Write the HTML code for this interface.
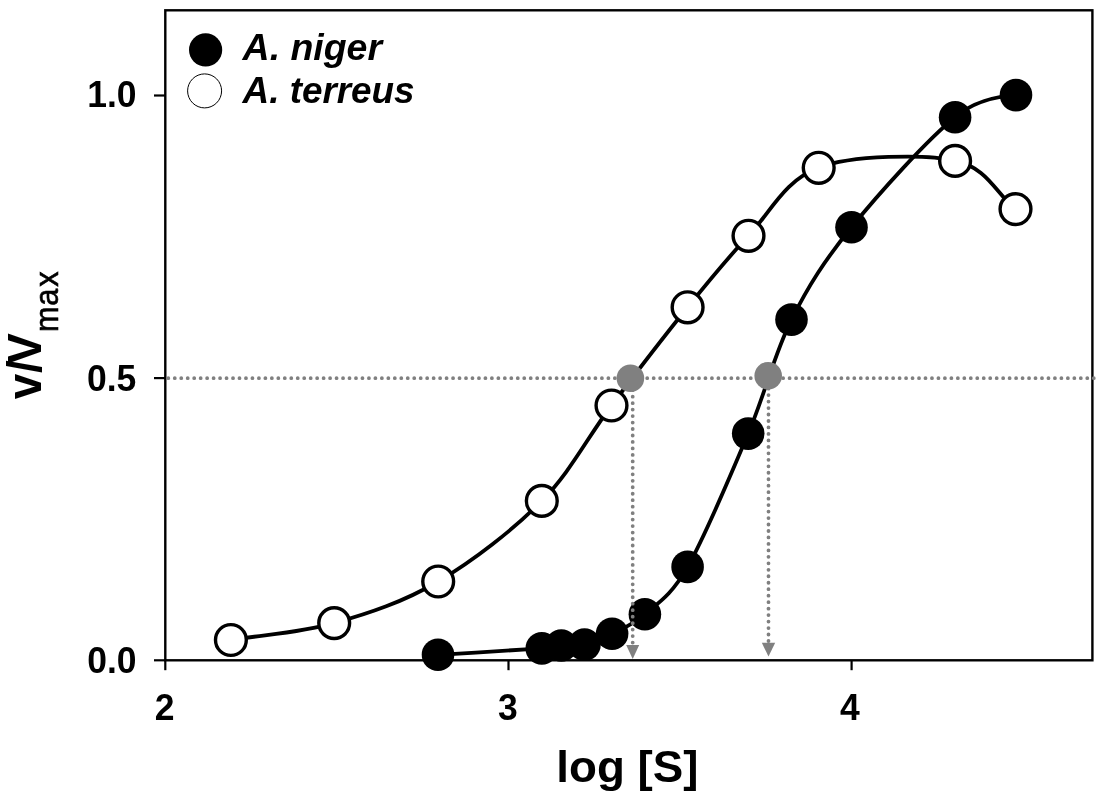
<!DOCTYPE html>
<html><head><meta charset="utf-8"><title>v/Vmax vs log [S]</title>
<style>html,body{margin:0;padding:0;background:#fff}svg{display:block}</style></head>
<body>
<svg width="1100" height="799" viewBox="0 0 1100 799">
<rect width="1100" height="799" fill="#fff"/>
<rect x="165.3" y="10.3" width="927.1" height="650.0" fill="none" stroke="#000" stroke-width="2.4"/>
<line x1="154" y1="95.5" x2="165.3" y2="95.5" stroke="#000" stroke-width="2.2"/>
<line x1="154" y1="378.1" x2="165.3" y2="378.1" stroke="#000" stroke-width="2.2"/>
<line x1="154" y1="660.3" x2="165.3" y2="660.3" stroke="#000" stroke-width="2.2"/>
<line x1="165.3" y1="660.3" x2="165.3" y2="670.2" stroke="#000" stroke-width="2.2"/>
<line x1="508.5" y1="660.3" x2="508.5" y2="670.2" stroke="#000" stroke-width="2.2"/>
<line x1="851.6" y1="660.3" x2="851.6" y2="670.2" stroke="#000" stroke-width="2.2"/>
<path d="M230.9 640.0 C265.3 634.4 299.6 632.9 334.2 623.1 C368.8 613.4 403.6 601.9 438.2 581.5 C472.8 561.1 512.9 530.2 541.8 500.9 C570.7 471.6 587.2 437.8 611.5 405.5 C635.8 373.2 664.8 335.6 687.6 307.3 C710.4 279.0 726.6 259.1 748.5 235.8 C770.4 212.6 784.3 180.3 818.7 167.8 C850.0 155.0 928.0 154.0 955.1 160.9 C987.9 167.8 995.4 193.0 1015.5 209.1" fill="none" stroke="#000" stroke-width="3.8" stroke-linejoin="round"/>
<path d="M438.0 654.8 C472.6 652.7 521.2 649.9 541.8 648.4 C562.3 646.9 554.2 646.1 561.3 645.5 C568.4 644.9 576.0 646.6 584.5 644.6 C593.0 642.6 602.0 638.9 612.1 633.8 C622.2 628.7 632.3 625.4 644.9 614.2 C657.5 603.1 670.4 597.0 687.6 566.9 C704.8 536.8 730.9 474.8 748.2 433.6 C765.5 392.4 774.3 354.0 791.5 319.6 C808.7 285.2 824.2 261.0 851.5 227.3 C878.8 193.6 927.7 139.3 955.1 117.3 C972.0 102.5 996.0 96.3 1016.0 95.1" fill="none" stroke="#000" stroke-width="3.8" stroke-linejoin="round"/>
<circle cx="230.9" cy="640.0" r="15.4" fill="#fff" stroke="#000" stroke-width="3.4"/>
<circle cx="334.2" cy="623.1" r="15.4" fill="#fff" stroke="#000" stroke-width="3.4"/>
<circle cx="438.2" cy="581.5" r="15.4" fill="#fff" stroke="#000" stroke-width="3.4"/>
<circle cx="541.8" cy="500.9" r="15.4" fill="#fff" stroke="#000" stroke-width="3.4"/>
<circle cx="611.5" cy="405.5" r="15.4" fill="#fff" stroke="#000" stroke-width="3.4"/>
<circle cx="687.6" cy="307.3" r="15.4" fill="#fff" stroke="#000" stroke-width="3.4"/>
<circle cx="748.5" cy="235.8" r="15.4" fill="#fff" stroke="#000" stroke-width="3.4"/>
<circle cx="818.7" cy="167.8" r="15.4" fill="#fff" stroke="#000" stroke-width="3.4"/>
<circle cx="955.1" cy="160.9" r="15.4" fill="#fff" stroke="#000" stroke-width="3.4"/>
<circle cx="1015.5" cy="209.1" r="15.4" fill="#fff" stroke="#000" stroke-width="3.4"/>
<circle cx="438.0" cy="654.8" r="16.3" fill="#000"/>
<circle cx="541.8" cy="648.4" r="16.3" fill="#000"/>
<circle cx="561.3" cy="645.5" r="16.3" fill="#000"/>
<circle cx="584.5" cy="644.6" r="16.3" fill="#000"/>
<circle cx="612.1" cy="633.8" r="16.3" fill="#000"/>
<circle cx="644.9" cy="614.2" r="16.3" fill="#000"/>
<circle cx="687.6" cy="566.9" r="16.3" fill="#000"/>
<circle cx="748.2" cy="433.6" r="16.3" fill="#000"/>
<circle cx="791.5" cy="319.6" r="16.3" fill="#000"/>
<circle cx="851.5" cy="227.3" r="16.3" fill="#000"/>
<circle cx="955.1" cy="117.3" r="16.3" fill="#000"/>
<circle cx="1016.0" cy="95.1" r="16.3" fill="#000"/>
<line x1="168.3" y1="378.2" x2="1096" y2="378.2" stroke="#808080" stroke-width="3.8" stroke-linecap="round" stroke-dasharray="0.01 6.4617" fill="none"/>
<line x1="632.7" y1="390.2" x2="632.7" y2="646" stroke="#808080" stroke-width="3.8" stroke-linecap="round" stroke-dasharray="0.01 6.46" fill="none"/>
<line x1="768.5" y1="388.64" x2="768.5" y2="642" stroke="#808080" stroke-width="3.8" stroke-linecap="round" stroke-dasharray="0.01 6.46" fill="none"/>
<path d="M626.2 645 L639.2 645 L632.7 659 Z" fill="#808080"/>
<path d="M761.8 642.8 L775.2 642.8 L768.5 656.5 Z" fill="#808080"/>
<circle cx="630.4" cy="378.2" r="13.8" fill="#808080"/>
<circle cx="768.2" cy="375.8" r="13.8" fill="#808080"/>
<circle cx="205.6" cy="49.9" r="16.6" fill="#000"/>
<circle cx="204.6" cy="90.9" r="17" fill="#fff" stroke="#000" stroke-width="1"/>
<text transform="translate(242.60,60.40) scale(1.0700,1.0600)" font-family="'Liberation Sans', Arial, sans-serif" font-size="35" font-weight="bold" font-style="italic" >A. niger</text>
<text transform="translate(242.60,102.80) scale(1.0530,1.0600)" font-family="'Liberation Sans', Arial, sans-serif" font-size="35" font-weight="bold" font-style="italic" >A. terreus</text>
<text transform="translate(87.20,106.90) scale(1.0000,1.0450)" font-family="'Liberation Sans', Arial, sans-serif" font-size="35.5" font-weight="bold" >1.0</text>
<text transform="translate(86.95,390.60) scale(1.0000,1.0450)" font-family="'Liberation Sans', Arial, sans-serif" font-size="35.5" font-weight="bold" >0.5</text>
<text transform="translate(87.20,672.50) scale(1.0000,1.0450)" font-family="'Liberation Sans', Arial, sans-serif" font-size="35.5" font-weight="bold" >0.0</text>
<text transform="translate(154.70,719.90) scale(1.0000,1.0450)" font-family="'Liberation Sans', Arial, sans-serif" font-size="35.5" font-weight="bold" >2</text>
<text transform="translate(498.00,719.80) scale(1.0000,1.0450)" font-family="'Liberation Sans', Arial, sans-serif" font-size="35.5" font-weight="bold" >3</text>
<text transform="translate(840.00,719.80) scale(1.0000,1.0450)" font-family="'Liberation Sans', Arial, sans-serif" font-size="35.5" font-weight="bold" >4</text>
<text transform="translate(556.30,782.30) scale(0.9940,0.9780)" font-family="'Liberation Sans', Arial, sans-serif" font-size="46" font-weight="bold" >log [S]</text>
<text transform="translate(41.30,399.33) rotate(-90) scale(1.0000,1.0250)" font-family="'Liberation Sans', Arial, sans-serif" font-size="46" font-weight="bold" x="0 26.3 35.6">v/V</text>
<text transform="translate(57.70,332.09) rotate(-90) scale(0.9300,0.9900)" font-family="'Liberation Sans', Arial, sans-serif" font-size="33" font-weight="normal" x="0 28.23 48.78" stroke="#000" stroke-width="0.6">max</text>
</svg>
</body></html>
